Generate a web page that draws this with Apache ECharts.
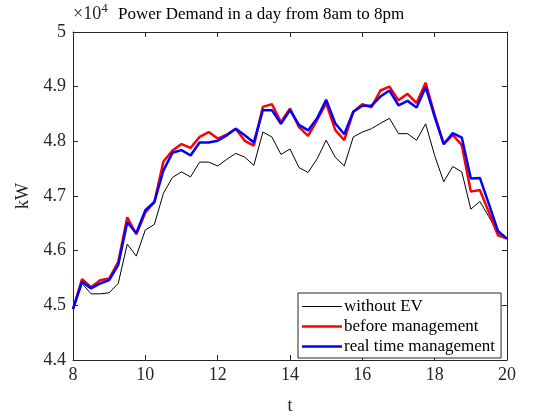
<!DOCTYPE html>
<html>
<head>
<meta charset="utf-8">
<script src="https://cdn.jsdelivr.net/npm/echarts@6/dist/echarts.min.js"></script>
<style>
  html, body { margin: 0; padding: 0; background: #fff; }
  #chart { width: 560px; height: 420px; }
</style>
</head>
<body>
<div id="chart"></div>
<script>
// time of day (hours), one point every 15 min
const times = [
  8, 8.25, 8.5, 8.75, 9, 9.25, 9.5, 9.75, 10, 10.25, 10.5, 10.75,
  11, 11.25, 11.5, 11.75, 12, 12.25, 12.5, 12.75, 13, 13.25, 13.5, 13.75,
  14, 14.25, 14.5, 14.75, 15, 15.25, 15.5, 15.75, 16, 16.25, 16.5, 16.75,
  17, 17.25, 17.5, 17.75, 18, 18.25, 18.5, 18.75, 19, 19.25, 19.5, 19.75, 20
];

// kW
const withoutEV = [
  44930, 45400, 45210, 45210, 45230, 45400, 46120, 45900, 46380, 46480, 47050, 47340,
  47440, 47350, 47620, 47620, 47550, 47670, 47780, 47710, 47560, 48170, 48080, 47760,
  47860, 47520, 47430, 47680, 48020, 47710, 47550, 48080, 48170, 48230, 48330, 48420,
  48140, 48140, 48020, 48320, 47740, 47260, 47540, 47440, 46760, 46900, 46620, 46320, 46220
];
const beforeMgmt = [
  44930, 45480, 45330, 45460, 45490, 45790, 46610, 46300, 46700, 46890, 47630, 47830,
  47950, 47880, 48080, 48170, 48050, 48120, 48230, 48010, 47920, 48630, 48680, 48350,
  48600, 48260, 48100, 48390, 48700, 48210, 48020, 48540, 48680, 48620, 48930, 49000,
  48750, 48870, 48700, 49070, 48480, 47950, 48120, 47930, 47080, 47110, 46700, 46280, 46220
];
const realTimeMgmt = [
  44930, 45430, 45310, 45400, 45460, 45740, 46520, 46320, 46740, 46890, 47470, 47790,
  47840, 47740, 47980, 47980, 48010, 48110, 48230, 48110, 47980, 48570, 48570, 48320,
  48570, 48300, 48200, 48420, 48760, 48330, 48130, 48540, 48650, 48650, 48820, 48930,
  48660, 48740, 48620, 48990, 48450, 47950, 48150, 48070, 47320, 47330, 46850, 46360, 46220
];

const FONT = '"Liberation Serif", "DejaVu Serif", serif';
const INK = '#262626';

const pairs = (ys) => times.map((t, i) => [t, ys[i]]);

const chart = echarts.init(document.getElementById('chart'));

const tickStyle = { inside: true, length: 5, lineStyle: { color: INK, width: 1 } };
const lineStyleAxis = { show: true, onZero: false, lineStyle: { color: INK, width: 1 } };

chart.setOption({
  backgroundColor: '#fff',
  animation: false,
  textStyle: { fontFamily: FONT },
  title: {
    text: 'Power Demand in a day from 8am to 8pm',
    left: 113,
    top: 1,
    textStyle: { fontFamily: FONT, fontWeight: 'normal', fontSize: 17, color: '#000' }
  },
  graphic: [{
    type: 'text',
    left: 73,
    top: 2,
    style: {
      text: '{a|×10}{b|4}',
      rich: {
        a: { fontFamily: FONT, fontSize: 18, fill: INK, verticalAlign: 'bottom' },
        b: { fontFamily: FONT, fontSize: 13, fill: INK, verticalAlign: 'top', padding: [0, 0, 8, 0] }
      }
    }
  }],
  legend: {
    orient: 'vertical',
    left: 298,
    top: 293,
    padding: [5, 6, 3, 4],
    itemGap: 3,
    itemWidth: 40,
    itemHeight: 12,
    backgroundColor: '#fff',
    borderColor: INK,
    borderWidth: 1,
    borderRadius: 0,
    textStyle: { fontFamily: FONT, fontSize: 17, color: '#000', lineHeight: 17, padding: [0, 0, 0, -3] },
    data: [
      { name: 'without EV', icon: 'path://M0,0H40V1H0Z' },
      { name: 'before management', icon: 'path://M0,0H40V2.5H0Z' },
      { name: 'real time management', icon: 'path://M0,0H40V2.5H0Z' }
    ]
  },
  grid: { left: 73, right: 53, top: 32, bottom: 53 },
  xAxis: [{
    type: 'value',
    min: 8,
    max: 20,
    interval: 2,
    name: 't',
    nameLocation: 'middle',
    nameGap: 37,
    nameTextStyle: { fontFamily: FONT, fontSize: 18, color: INK },
    axisLine: lineStyleAxis,
    axisTick: tickStyle,
    axisLabel: { fontFamily: FONT, fontSize: 18, color: INK, margin: 6 },
    splitLine: { show: false }
  }, {
    type: 'value',
    position: 'top',
    min: 8,
    max: 20,
    interval: 2,
    axisLine: lineStyleAxis,
    axisTick: tickStyle,
    axisLabel: { show: false },
    splitLine: { show: false }
  }],
  yAxis: [{
    type: 'value',
    min: 44000,
    max: 50000,
    interval: 1000,
    name: 'kW',
    nameLocation: 'middle',
    nameGap: 34,
    nameTextStyle: { fontFamily: FONT, fontSize: 18, color: INK },
    axisLine: lineStyleAxis,
    axisTick: tickStyle,
    axisLabel: {
      fontFamily: FONT, fontSize: 18, color: INK, margin: 7,
      formatter: (v) => String(Math.round(v / 100) / 100)
    },
    splitLine: { show: false }
  }, {
    type: 'value',
    position: 'right',
    min: 44000,
    max: 50000,
    interval: 1000,
    axisLine: lineStyleAxis,
    axisTick: tickStyle,
    axisLabel: { show: false },
    splitLine: { show: false }
  }],
  series: [
    {
      name: 'without EV',
      type: 'line',
      data: pairs(withoutEV),
      symbol: 'none',
      lineStyle: { color: '#000', width: 1 },
      itemStyle: { color: '#000' }
    },
    {
      name: 'before management',
      type: 'line',
      data: pairs(beforeMgmt),
      symbol: 'none',
      lineStyle: { color: '#ff0000', width: 2.5 },
      itemStyle: { color: '#ff0000' }
    },
    {
      name: 'real time management',
      type: 'line',
      data: pairs(realTimeMgmt),
      symbol: 'none',
      lineStyle: { color: '#0000ff', width: 2.5 },
      itemStyle: { color: '#0000ff' }
    }
  ]
});
</script>
</body>
</html>
